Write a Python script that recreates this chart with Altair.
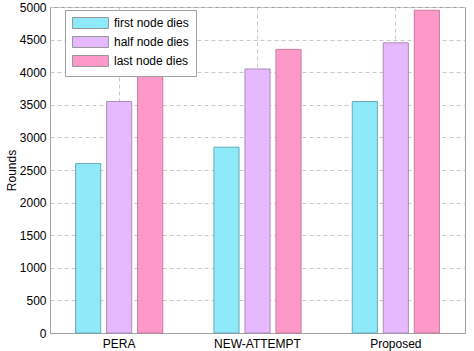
import altair as alt
import pandas as pd

protocols = ["PERA", "NEW-ATTEMPT", "Proposed"]
series = ["first node dies", "half node dies", "last node dies"]
first_node = [2600, 2850, 3550]
half_node = [3550, 4050, 4450]
last_node = [3950, 4350, 4950]
fill_colors = ["#8ee9f9", "#e6b8fd", "#fd99c9"]
stroke_colors = ["#6aaab6", "#ad8cbd", "#c57b9e"]

rows = []
for s, vals, edge in zip(series, [first_node, half_node, last_node], stroke_colors):
    for p, v in zip(protocols, vals):
        rows.append({"protocol": p, "series": s, "rounds": v, "edge": edge})
df = pd.DataFrame(rows)

font = "Liberation Sans"

chart = alt.Chart(df).mark_bar(strokeWidth=1).encode(
    x=alt.X("protocol:N", sort=protocols, title=None,
            scale=alt.Scale(paddingInner=0.37, paddingOuter=0.185),
            axis=alt.Axis(labelAngle=0, grid=True, bandPosition=0.5, ticks=False,
                          labelPadding=5, labelFontSize=12, labelColor="#000",
                          labelFont=font, domainColor="#a0a0a0",
                          gridColor="#c8c8c8", gridDash=[4, 3])),
    xOffset=alt.XOffset("series:N", sort=series,
                        scale=alt.Scale(paddingInner=0.19, paddingOuter=0)),
    y=alt.Y("rounds:Q", title="Rounds",
            scale=alt.Scale(domain=[0, 5000], nice=False),
            axis=alt.Axis(values=list(range(0, 5001, 500)), ticks=False, format="d",
                          labelPadding=4, labelFontSize=12, labelColor="#000",
                          labelFont=font, titleFont=font, titleFontSize=12,
                          titleFontWeight="normal", titleColor="#000",
                          titlePadding=1, domainColor="#a0a0a0",
                          gridColor="#c8c8c8", gridDash=[4, 3])),
    fill=alt.Fill("series:N", sort=series,
                  scale=alt.Scale(domain=series, range=fill_colors),
                  legend=alt.Legend(title=None, orient="none", legendX=15, legendY=3,
                                    labelFontSize=12, labelFont=font,
                                    symbolSize=121, columns=1, columnPadding=0,
                                    labelOffset=30,
                                    symbolType="M-1,-1H5.545V1H-1Z")),
    stroke=alt.Stroke("edge:N", scale=None, legend=None),
).properties(
    width=415, height=326,
    autosize=alt.AutoSizeParams(type="none"),
    padding={"left": 50, "top": 7, "right": 9, "bottom": 18},
).configure_view(
    stroke="#a0a0a0", strokeWidth=1
).configure_legend(
    fillColor="white", strokeColor="#a0a0a0",
    padding=7, rowPadding=3,
    labelColor="#000", labelLimit=200,
    symbolStrokeWidth=1, symbolStrokeColor="#999999", symbolOpacity=1,
)

chart.save("out.html", embed_options={"renderer": "svg", "actions": False})
